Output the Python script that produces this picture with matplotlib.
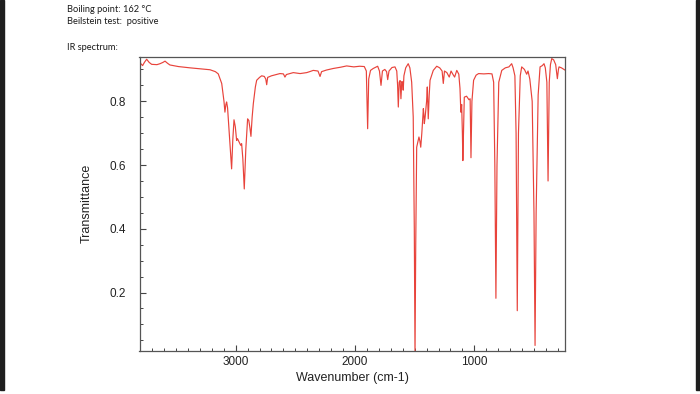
import matplotlib
matplotlib.use('Agg')
import matplotlib.pyplot as plt
from matplotlib.ticker import MultipleLocator
from matplotlib.patches import Rectangle

# header lines above the spectrum
header_lines = ['Boiling point: 162 °C', 'Beilstein test:  positive', 'IR spectrum:']

# spectrum (cm-1, transmittance)
wavenumber = [3808, 3795, 3780, 3765, 3746, 3725, 3704, 3660, 3634, 3610, 3592, 3570, 3551, 3480,
              3383, 3300, 3215, 3170, 3146, 3117, 3098, 3090, 3082, 3076, 3068, 3050, 3034, 3024,
              3014, 3003, 2992, 2985, 2975, 2958, 2950, 2940, 2928, 2915, 2900, 2890, 2880, 2872,
              2862, 2852, 2835, 2824, 2800, 2782, 2760, 2748, 2740, 2732, 2700, 2660, 2629, 2600,
              2587, 2575, 2517, 2460, 2405, 2380, 2350, 2310, 2293, 2280, 2240, 2182, 2120, 2070,
              2010, 1960, 1922, 1905, 1894, 1885, 1870, 1847, 1810, 1795, 1782, 1770, 1750, 1735,
              1726, 1715, 1690, 1665, 1650, 1643, 1637, 1630, 1622, 1615, 1608, 1600, 1596, 1590,
              1575, 1554, 1540, 1525, 1512, 1503, 1497, 1491, 1483, 1475, 1464, 1456, 1449, 1440,
              1427, 1422, 1419, 1412, 1400, 1394, 1390, 1386, 1378, 1371, 1344, 1315, 1290, 1270,
              1260, 1250, 1230, 1210, 1195, 1180, 1165, 1147, 1130, 1120, 1113, 1106, 1100, 1096,
              1090, 1084, 1065, 1045, 1035, 1028, 1020, 1006, 985, 964, 920, 880, 852, 838,
              828, 819, 810, 795, 770, 740, 710, 687, 675, 660, 650, 640, 630, 615,
              603, 580, 561, 550, 535, 515, 500, 491, 482, 465, 449, 430, 416, 405,
              392, 382, 372, 362, 351, 335, 318, 304, 295, 290, 270, 248, 240]
transmittance = [0.931, 0.918, 0.912, 0.922, 0.932, 0.922, 0.916, 0.915, 0.918, 0.922, 0.926, 0.919, 0.914, 0.909,
                 0.905, 0.902, 0.899, 0.893, 0.886, 0.856, 0.800, 0.766, 0.790, 0.798, 0.780, 0.680, 0.588, 0.680,
                 0.742, 0.720, 0.677, 0.683, 0.675, 0.662, 0.667, 0.620, 0.525, 0.650, 0.745, 0.740, 0.715, 0.690,
                 0.750, 0.793, 0.845, 0.866, 0.875, 0.880, 0.878, 0.870, 0.852, 0.875, 0.880, 0.884, 0.887, 0.886,
                 0.876, 0.884, 0.890, 0.887, 0.890, 0.893, 0.897, 0.895, 0.878, 0.893, 0.898, 0.903, 0.907, 0.911,
                 0.908, 0.910, 0.909, 0.895, 0.714, 0.870, 0.897, 0.903, 0.910, 0.895, 0.850, 0.895, 0.900, 0.893,
                 0.868, 0.895, 0.906, 0.908, 0.895, 0.850, 0.782, 0.860, 0.865, 0.808, 0.862, 0.860, 0.835, 0.880,
                 0.905, 0.918, 0.905, 0.860, 0.751, 0.400, 0.000, 0.350, 0.656, 0.670, 0.688, 0.675, 0.656, 0.700,
                 0.777, 0.755, 0.730, 0.751, 0.800, 0.845, 0.800, 0.745, 0.820, 0.866, 0.897, 0.910, 0.905, 0.895,
                 0.856, 0.895, 0.890, 0.876, 0.895, 0.885, 0.876, 0.897, 0.885, 0.840, 0.766, 0.790, 0.700, 0.614,
                 0.720, 0.813, 0.816, 0.805, 0.808, 0.623, 0.800, 0.866, 0.882, 0.887, 0.886, 0.887, 0.886, 0.860,
                 0.600, 0.182, 0.600, 0.860, 0.897, 0.905, 0.908, 0.918, 0.905, 0.880, 0.700, 0.143, 0.700, 0.880,
                 0.908, 0.900, 0.885, 0.895, 0.870, 0.800, 0.450, 0.034, 0.450, 0.820, 0.908, 0.912, 0.918, 0.905,
                 0.860, 0.550, 0.860, 0.915, 0.934, 0.930, 0.915, 0.871, 0.900, 0.908, 0.905, 0.900, 0.898]

x_ticks = [3000, 2000, 1000]
y_ticks = [0.2, 0.4, 0.6, 0.8]

fig = plt.figure(figsize=(7, 3.94), dpi=100, facecolor='white')

# dark slide edges
fig.patches.append(Rectangle((0, 4 / 394), 3.5 / 700, 390 / 394, transform=fig.transFigure,
                             color='#1e1e1e', zorder=0))
fig.patches.append(Rectangle((696 / 700, 4 / 394), 4 / 700, 390 / 394, transform=fig.transFigure,
                             color='#1e1e1e', zorder=0))

for txt, ypx in zip(header_lines, [9, 21, 47]):
    fig.text(67 / 700, 1 - ypx / 394, txt, fontsize=6.7, family='Lato', va='center', ha='left',
             color='#1a1a1a')

ax = fig.add_axes([139.5 / 700, 1 - 350.7 / 394, (565 - 139.5) / 700, (350.7 - 57) / 394])
ax.plot(wavenumber, transmittance, color='#e8433b', lw=0.85)
ax.set_xlim(3806, 240)
ax.set_ylim(0.0175, 0.939)

ax.set_xticks(x_ticks)
ax.set_yticks(y_ticks)
ax.xaxis.set_minor_locator(MultipleLocator(100))
ax.yaxis.set_minor_locator(MultipleLocator(0.05))
ax.tick_params(which='both', direction='in', colors='#444444', labelcolor='#222222',
               labelsize=8.5, top=False, right=False)
ax.tick_params(which='major', length=4, width=0.8)
ax.tick_params(which='minor', length=2, width=0.7)
ax.tick_params(axis='y', pad=10)
ax.tick_params(axis='x', pad=4)
for lab in ax.get_xticklabels() + ax.get_yticklabels():
    lab.set_family('Liberation Sans')
for sp in ax.spines.values():
    sp.set_color('#555555')
    sp.set_linewidth(0.9)

ax.set_xlabel('Wavenumber (cm-1)', family='Liberation Sans', fontsize=9, color='#222222', labelpad=3)
ax.set_ylabel('Transmittance', family='Liberation Sans', fontsize=9, color='#222222', labelpad=12)

fig.savefig('out.png', dpi=100, facecolor='white')
